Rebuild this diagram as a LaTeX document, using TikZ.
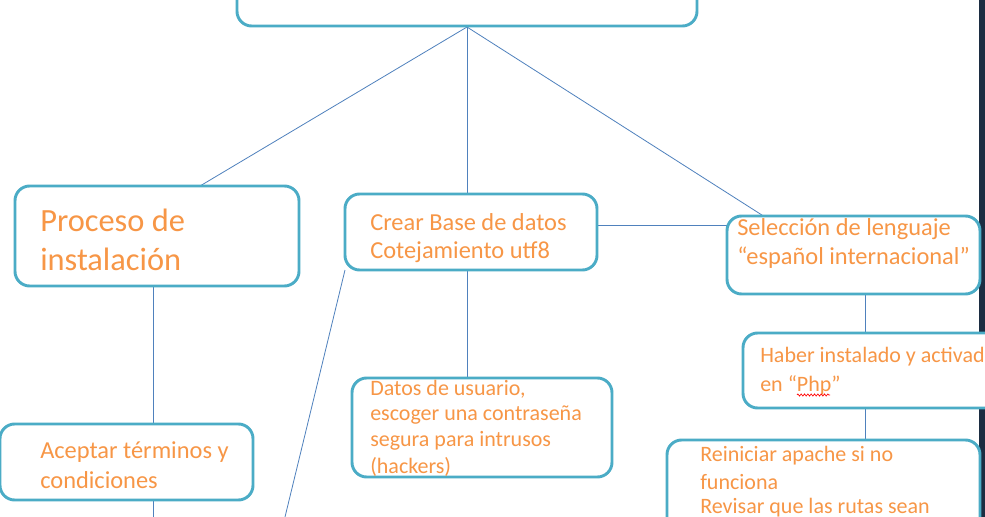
\documentclass[tikz,border=0pt]{standalone}
\usepackage{fontspec}
\setmainfont{Carlito}
\usetikzlibrary{decorations.pathmorphing}
\definecolor{orng}{HTML}{F79646}
\definecolor{teal}{HTML}{4BACC6}
\definecolor{lnc}{HTML}{4F81BD}
\begin{document}
\begin{tikzpicture}[x=0.75pt,y=-0.75pt,
  bx/.style={draw=teal,line width=2.2pt,rounded corners=11pt,fill=white},
  tx/.style={text=orng,anchor=west,inner sep=0pt},
  fa/.style={font=\fontsize{24.3}{28}\selectfont},
  fb/.style={font=\fontsize{18.3}{22}\selectfont},
  fc/.style={font=\fontsize{16.5}{20}\selectfont},
  ln/.style={draw=lnc,line width=0.6pt}]
\useasboundingbox (0,0) rectangle (985,517);
\fill[white] (0,0) rectangle (985,517);
\fill[black!65!lnc] (979,0) rectangle (985,517);
% connectors
\coordinate (t) at (467,27);
\coordinate (dl) at (285,517);
\coordinate (al) at (153,517);
\draw[ln] (t) -- (200,186);
\draw[ln] (t) -- (467,194);
\draw[ln] (t) -- (765,217);
\draw[ln] (597,225) -- (727,225);
\draw[ln] (153,287) -- (153,424);
\draw[ln] (153,500) -- (al);
\draw[ln] (345,270) -- (dl);
\draw[ln] (467,271) -- (467,378);
\draw[ln] (865,294) -- (865,333);
\draw[ln] (865,408) -- (865,440);
% boxes
\draw[bx] (237,-20) rectangle (697,26);
\draw[bx] (15,186) rectangle (299,286);
\draw[bx] (345,194) rectangle (597,270);
\draw[bx] (727,216) rectangle (980,294);
\draw[bx] (0,424) rectangle (253,500);
\draw[bx] (352,378) rectangle (612,477);
\draw[bx] (743,333) rectangle (1000,408);
\draw[bx] (667,440) rectangle (980,560);
% texts
\node[tx,fa] (p1) at (40,220) {Proceso de};
\node[tx,fa] (p2) at (40,259) {instalación};
\node[tx,fb] (c1) at (370,222) {Crear Base de datos};
\node[tx,fb] (c2) at (370,252) {Cotejamiento utf8};
\node[tx,fb] (s1) at (737,229) {Selección de lenguaje};
\node[tx,fb] (s2) at (737,258) {“español internacional”};
\node[tx,fb] (a1) at (40,452) {Aceptar términos y};
\node[tx,fb] (a2) at (40,480) {condiciones};
\node[tx,fc] (d1) at (370,389) {Datos de usuario,};
\node[tx,fc] (d2) at (370,415) {escoger una contraseña};
\node[tx,fc] (d3) at (370,441) {segura para intrusos};
\node[tx,fc] (d4) at (370,467) {(hackers)};
\node[tx,fc] (h1) at (760,357) {Haber instalado y activada};
\node[tx,fc] (h2) at (760,385) {en “Php”};
\draw[red,line width=0.5pt,decorate,decoration={zigzag,amplitude=0.8pt,segment length=2.5pt}] (797,395) -- (830,395);
\node[tx,fc] (r1) at (700,456) {Reiniciar apache si no};
\node[tx,fc] (r2) at (700,482) {funciona};
\node[tx,fc] (r3) at (700,508) {Revisar que las rutas sean};
\end{tikzpicture}
\end{document}
